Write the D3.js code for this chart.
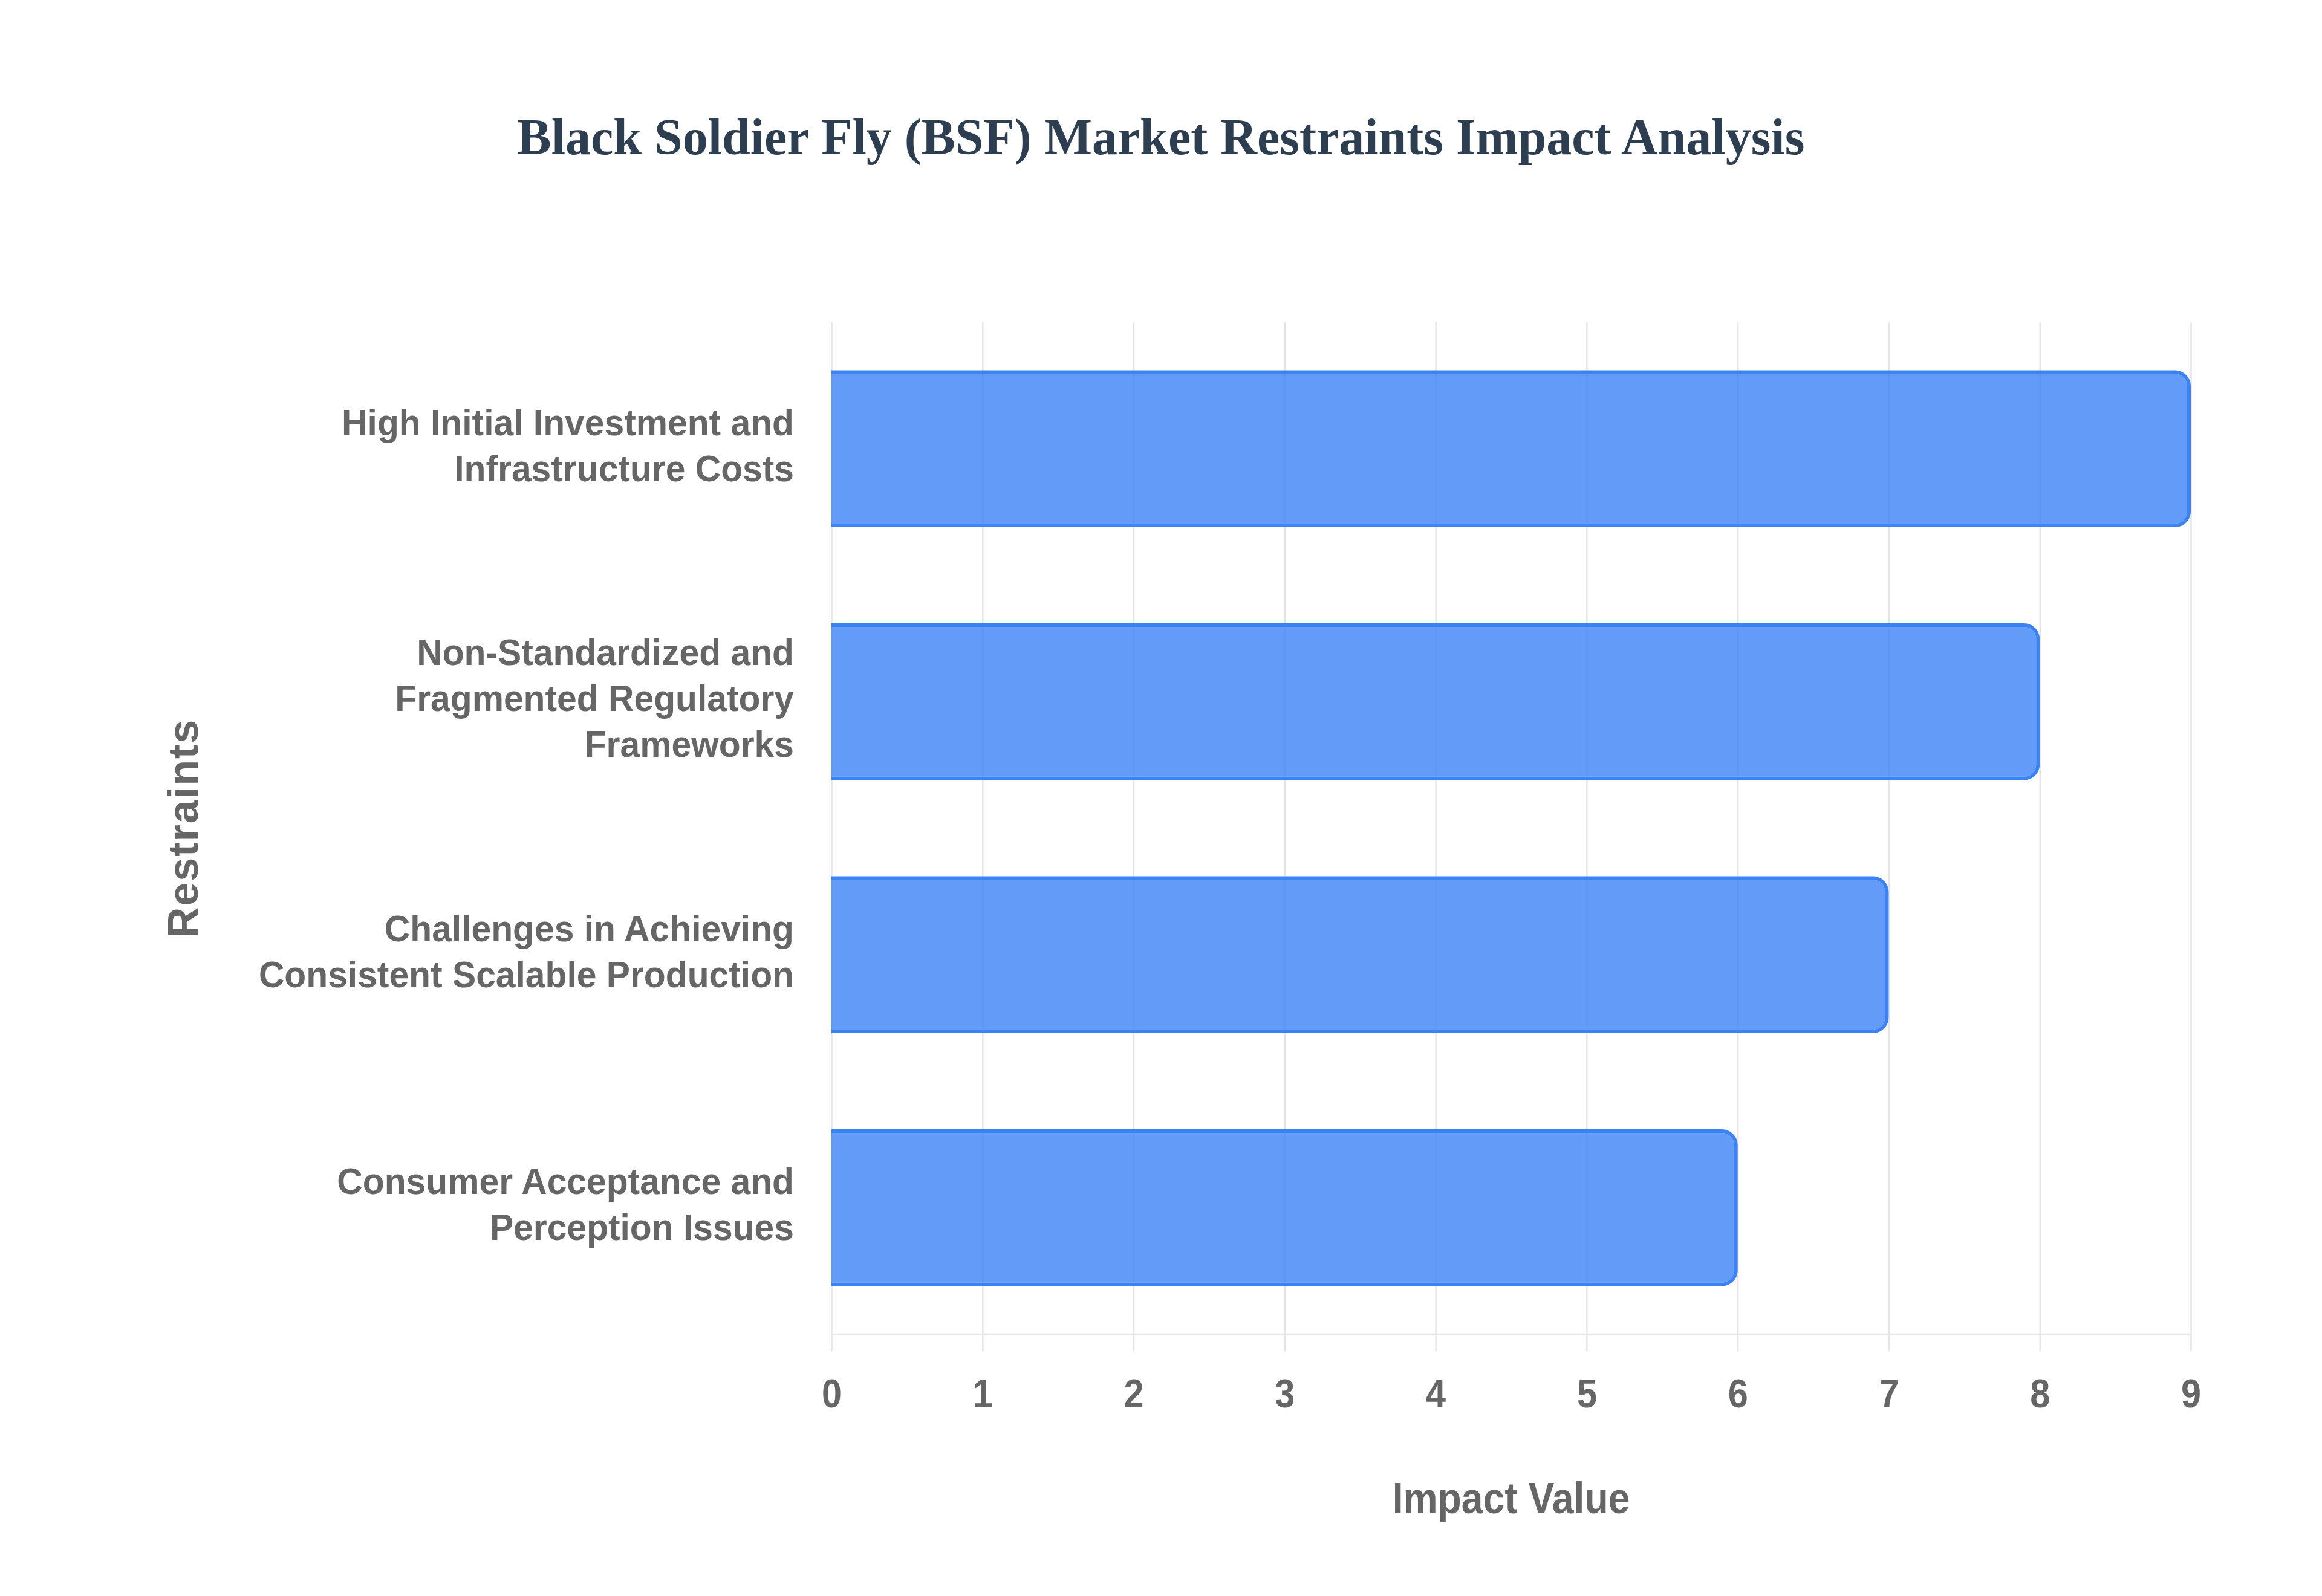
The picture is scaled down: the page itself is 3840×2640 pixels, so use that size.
<!DOCTYPE html>
<html><head><meta charset="utf-8">
<script src="https://cdn.jsdelivr.net/npm/d3@7"></script>
<style>html,body{margin:0;padding:0;background:#fff;} svg{display:block}</style>
</head><body>
<svg id="chart" width="3840" height="2640"></svg>
<script>
// ---- data ----
const categories = [
  "High Initial Investment and Infrastructure Costs",
  "Non-Standardized and Fragmented Regulatory Frameworks",
  "Challenges in Achieving Consistent Scalable Production",
  "Consumer Acceptance and Perception Issues"
];
const categoryLines = [
  ["High Initial Investment and", "Infrastructure Costs"],
  ["Non-Standardized and", "Fragmented Regulatory", "Frameworks"],
  ["Challenges in Achieving", "Consistent Scalable Production"],
  ["Consumer Acceptance and", "Perception Issues"]
];
const impactValues = [9, 8, 7, 6];
const xTicks = [0, 1, 2, 3, 4, 5, 6, 7, 8, 9];
const titleText = "Black Soldier Fly (BSF) Market Restraints Impact Analysis";
const xTitle = "Impact Value";
const yTitle = "Restraints";

// ---- layout ----
const W = 3840, H = 2640;
const plotL = 1375, plotR = 3623, plotT = 533, plotB = 2207, tickEnd = 2235;
const sans = "'Liberation Sans', Arial, Helvetica, sans-serif";
const grey = "#666666";
const gridColor = "#e5e5e5";
const barFill = "rgba(59,130,246,0.8)";
const barStroke = "#3b82f6";
const bw = 6, radius = 26;

const svg = d3.select("#chart");
svg.append("rect").attr("width", W).attr("height", H).attr("fill", "#fff");

const x = d3.scaleLinear().domain([0, 9]).range([plotL, plotR]);
const y = d3.scaleBand().domain(categories).range([plotT, plotB]).paddingInner(0.38).paddingOuter(0.19);
const yc = d3.scaleBand().domain(categories).range([plotT, plotB]).padding(0);

// grid (vertical) including tick marks below axis
const grid = svg.append("g").attr("transform", `translate(0,${tickEnd})`)
  .call(d3.axisTop(x).tickValues(xTicks).tickSize(tickEnd - plotT).tickFormat(""));
grid.select(".domain").remove();
grid.selectAll(".tick line").attr("stroke", gridColor).attr("stroke-width", 2.5);

// x axis line
svg.append("line").attr("x1", plotL).attr("x2", plotR).attr("y1", plotB).attr("y2", plotB)
  .attr("stroke", gridColor).attr("stroke-width", 2.5);

// x tick labels
const xAxis = svg.append("g").attr("transform", `translate(0,${plotB})`)
  .call(d3.axisBottom(x).tickValues(xTicks).tickSize(0).tickFormat(d3.format("d")));
xAxis.select(".domain").remove();
xAxis.selectAll(".tick text")
  .attr("y", 2328 - plotB).attr("dy", null)
  .attr("transform", "scale(0.9,1)")
  .attr("font-family", sans).attr("font-weight", "bold").attr("font-size", 66)
  .attr("fill", grey);

// bars
function barPath(x0, y0, x1, y1, r) {
  r = Math.max(0, Math.min(r, (y1 - y0) / 2, x1 - x0));
  return `M${x0},${y0}H${x1 - r}A${r},${r} 0 0 1 ${x1},${y0 + r}V${y1 - r}A${r},${r} 0 0 1 ${x1 - r},${y1}H${x0}Z`;
}
const bars = svg.append("g");
categories.forEach((c, i) => {
  const x0 = x(0), x1 = x(impactValues[i]);
  const y0 = y(c), y1 = y(c) + y.bandwidth();
  const outer = barPath(x0, y0, x1, y1, radius);
  const inner = barPath(x0, y0 + bw, x1 - bw, y1 - bw, radius - bw);
  bars.append("path").attr("d", outer + inner).attr("fill-rule", "evenodd").attr("fill", barStroke);
  bars.append("path").attr("d", inner).attr("fill", barFill);
});

// y axis labels (multi-line)
const fsLab = 60, lh = 76, labPad = 62;
const yAxis = svg.append("g").attr("transform", `translate(${plotL},0)`)
  .call(d3.axisLeft(yc).tickSize(0).tickPadding(labPad));
yAxis.select(".domain").remove();
yAxis.selectAll(".tick text").each(function (d) {
  const t = d3.select(this);
  const lines = categoryLines[categories.indexOf(d)];
  t.text(null).attr("dy", null).attr("y", 0).attr("x", 0)
    .attr("transform", `translate(${-labPad},0) scale(0.98,1.03)`)
    .attr("font-family", sans).attr("font-weight", "bold").attr("font-size", fsLab)
    .attr("fill", grey).attr("text-anchor", "end");
  const n = lines.length;
  lines.forEach((ln, k) => {
    t.append("tspan").attr("x", 0)
      .attr("y", ((k - (n - 1) / 2) * lh + 0.26 * fsLab) / 1.03)
      .text(ln);
  });
});

// title
svg.append("text").attr("x", 1920).attr("y", 255).attr("text-anchor", "middle")
  .attr("font-family", "'Liberation Serif', 'Times New Roman', Times, serif")
  .attr("font-weight", "bold").attr("font-size", 84).attr("fill", "#2c3e50")
  .text(titleText);

// x axis title
svg.append("text").attr("text-anchor", "middle")
  .attr("transform", `translate(${(plotL + plotR) / 2},2503) scale(0.88,1)`)
  .attr("font-family", sans).attr("font-weight", "bold").attr("font-size", 73)
  .attr("fill", grey).text(xTitle);

// y axis title
svg.append("text").attr("text-anchor", "middle")
  .attr("transform", `translate(327,${(plotT + plotB) / 2}) rotate(-90)`)
  .attr("font-family", sans).attr("font-weight", "bold").attr("font-size", 70)
  .attr("letter-spacing", 2)
  .attr("fill", grey).text(yTitle);
</script>
</body></html>
